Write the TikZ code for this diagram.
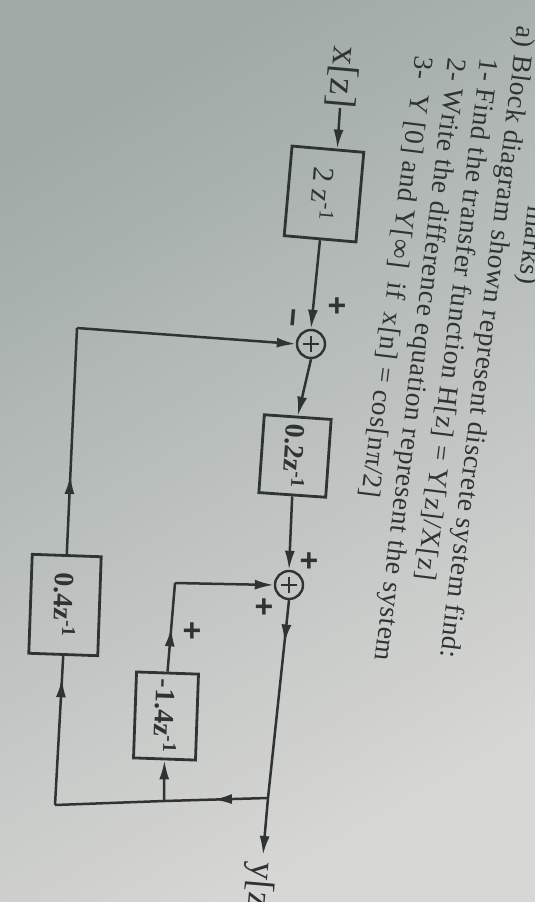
\documentclass[tikz,border=0pt]{standalone}
\usepackage{fontspec}
\setmainfont{Liberation Serif}
\newfontfamily\plusfont{Liberation Sans}
\newfontfamily\qfont[LetterSpace=2]{Liberation Serif}
\usetikzlibrary{arrows.meta,calc,decorations.markings}
\definecolor{ink}{RGB}{46,51,51}
\definecolor{bgA}{RGB}{160,170,167}
\definecolor{bgB}{RGB}{215,215,213}
\tikzset{
  wire/.style={draw=ink, line width=2.5pt},
  arr/.style={wire, -{Latex[length=19pt,width=10pt]}},
  midarr/.style={postaction={decorate}, decoration={markings, mark=at position #1 with {\arrow[ink]{Latex[length=19pt,width=10pt]}}}},
  blk/.style={draw=ink, line width=2.8pt, rectangle, inner sep=0pt, text=ink},
  sumj/.style={circle, draw=ink, line width=2.4pt, minimum size=28pt, inner sep=0pt,
    path picture={\draw[ink, line width=2.8pt] ($(path picture bounding box.center)+(-8pt,0pt)$) -- ++(16pt,0pt) ($(path picture bounding box.center)+(0pt,-8pt)$) -- ++(0pt,16pt);}},
  qtext/.style={text=ink, font=\qfont\fontsize{27.5}{32}\selectfont, rotate=-97, anchor=base west, inner sep=0pt},
  sgn/.style={text=ink, font=\plusfont\fontsize{32}{32}\selectfont\bfseries, inner sep=0pt},
  lbl/.style={text=ink, inner sep=0pt},
  boxfont/.style={font=\fontsize{28}{28}\selectfont\bfseries},
}
\begin{document}
\begin{tikzpicture}[x=1pt,y=-1pt]
\shade[top color=bgA, bottom color=bgB, shading angle=30] (0,0) rectangle (535,902);
\useasboundingbox (0,0) rectangle (535,902);
\clip (0,0) rectangle (535,902);

% question text
\node[qtext] (q00) at (529,205) {marks)};
\node[qtext] (q0) at (518,25) {a) Block diagram shown represent discrete system find:};
\node[qtext] (q1) at (481,57) {1- Find the transfer function H[z] = Y[z]/X[z]};
\node[qtext] (q2) at (449,57) {2- Write the difference equation represent the system};
\node[qtext] (q3) at (416,55) {3-\ \ Y [0] and Y[∞]\enspace if\enspace x[n] = cos[nπ/2]};

% blocks
\node[lbl, rotate=-95, anchor=east, font=\fontsize{38}{38}\selectfont] (xz) at (340,108) {x[z]};
\node[blk, rotate=-95, minimum width=90pt, minimum height=72pt, font=\fontsize{30}{30}\selectfont] (b2) at (324,194) {2 z\textsuperscript{-1}};
\node[blk, rotate=-94, minimum width=78pt, minimum height=67pt, boxfont] (b02) at (295,456) {0.2z\textsuperscript{-1}};
\node[blk, rotate=-92, minimum width=86pt, minimum height=62pt, boxfont] (b14) at (166,716) {-1.4z\textsuperscript{-1}};
\node[blk, rotate=-92, minimum width=99pt, minimum height=69pt, boxfont] (b04) at (65,605) {0.4z\textsuperscript{-1}};

\node[sumj] (s1) at (311,344) {};
\node[sumj] (s2) at (289,585) {};

\coordinate (c1) at (77,328);
\coordinate (c2) at (55,805);
\coordinate (j) at (268,798);
\coordinate (j2) at (164,801);
\coordinate (c3) at (175,583);
\coordinate (yo) at (263,855);

% connectors
\draw[arr] (xz.east) -- ($(b2.west)!0.25!(b2.north west)$);
\draw[arr] (b2.east) -- (s1.north);
\draw[arr] (s1.south) -- (b02.west);
\draw[arr] (b02.east) -- (s2.north);
\draw[arr, midarr=0.17] (s2.south) -- (j) -- (yo);
\draw[wire, midarr=0.53] (j) -- (j2);
\draw[wire] (j2) -- (c2);
\draw[wire, midarr=0.85] (c2) -- (b04.east);
\draw[wire, midarr=0.35] (b04.west) -- (c1);
\draw[arr] (c1) -- (s1.west);
\draw[arr] (j2) -- (b14.east);
\draw[wire, midarr=0.5] (b14.west) -- (c3);
\draw[arr] (c3) -- (s2.west);

\node[lbl, rotate=-95, anchor=west, font=\fontsize{36}{36}\selectfont] (yz) at (261,862) {y[z};

% signs
\node[sgn] (p1) at (337,307) {+};
\node[sgn, rotate=-95] (n1) at (289,317) {−};
\node[sgn] (p2) at (309,562) {+};
\node[sgn] (p3) at (264,608) {+};
\node[sgn] (p4) at (192,632) {+};
\end{tikzpicture}
\end{document}
